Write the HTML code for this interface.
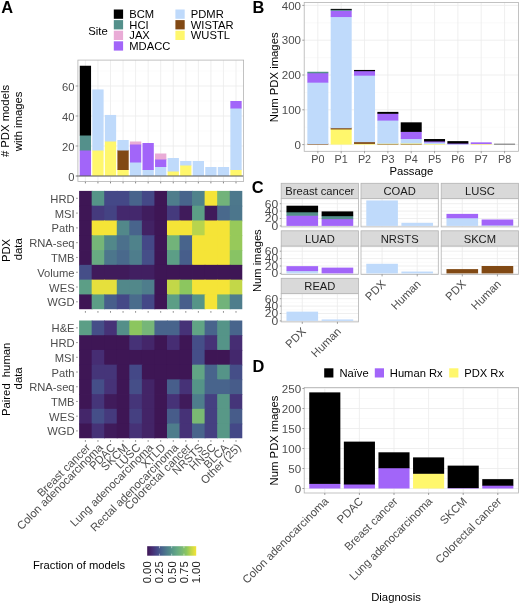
<!DOCTYPE html>
<html><head><meta charset="utf-8"><title>Figure</title>
<style>
html,body{margin:0;padding:0;background:#fff;}
body{width:520px;height:605px;overflow:hidden;}
svg{display:block;font-family:"Liberation Sans",sans-serif;}
svg{will-change:transform;}
</style></head>
<body>
<svg width="520" height="605" viewBox="0 0 520 605">
<rect width="520" height="605" fill="#fff"/>
<text x="1.2" y="12.8" font-size="16.4" fill="#000" text-anchor="start" font-weight="bold">A</text>
<text x="252.6" y="12.8" font-size="16.4" fill="#000" text-anchor="start" font-weight="bold">B</text>
<text x="251.8" y="193" font-size="16.4" fill="#000" text-anchor="start" font-weight="bold">C</text>
<text x="252.4" y="372.4" font-size="16.4" fill="#000" text-anchor="start" font-weight="bold">D</text>
<text x="88.3" y="34.5" font-size="11.3" fill="#000" text-anchor="start">Site</text>
<rect x="113.8" y="9.5" width="9.3" height="9.3" fill="#000000"/>
<text x="129.3" y="17.9" font-size="11.2" fill="#000" text-anchor="start">BCM</text>
<rect x="113.8" y="20.1" width="9.3" height="9.3" fill="#54908b"/>
<text x="129.3" y="28.5" font-size="11.2" fill="#000" text-anchor="start">HCI</text>
<rect x="113.8" y="30.7" width="9.3" height="9.3" fill="#e9abd6"/>
<text x="129.3" y="39.1" font-size="11.2" fill="#000" text-anchor="start">JAX</text>
<rect x="113.8" y="41.3" width="9.3" height="9.3" fill="#a265f9"/>
<text x="129.3" y="49.7" font-size="11.2" fill="#000" text-anchor="start">MDACC</text>
<rect x="175.4" y="9.5" width="9.3" height="9.3" fill="#bfdafb"/>
<text x="190.8" y="17.9" font-size="11.2" fill="#000" text-anchor="start">PDMR</text>
<rect x="175.4" y="20.1" width="9.3" height="9.3" fill="#814914"/>
<text x="190.8" y="28.5" font-size="11.2" fill="#000" text-anchor="start">WISTAR</text>
<rect x="175.4" y="30.7" width="9.3" height="9.3" fill="#fff76c"/>
<text x="190.8" y="39.1" font-size="11.2" fill="#000" text-anchor="start">WUSTL</text>
<rect x="77.9" y="60.1" width="165.7" height="121.4" fill="#ffffff"/>
<line x1="77.9" y1="161" x2="243.6" y2="161" stroke="#f4f4f4" stroke-width="0.5"/>
<line x1="77.9" y1="131" x2="243.6" y2="131" stroke="#f4f4f4" stroke-width="0.5"/>
<line x1="77.9" y1="101" x2="243.6" y2="101" stroke="#f4f4f4" stroke-width="0.5"/>
<line x1="77.9" y1="71" x2="243.6" y2="71" stroke="#f4f4f4" stroke-width="0.5"/>
<line x1="77.9" y1="176" x2="243.6" y2="176" stroke="#ebebeb" stroke-width="0.8"/>
<line x1="77.9" y1="146" x2="243.6" y2="146" stroke="#ebebeb" stroke-width="0.8"/>
<line x1="77.9" y1="116" x2="243.6" y2="116" stroke="#ebebeb" stroke-width="0.8"/>
<line x1="77.9" y1="86" x2="243.6" y2="86" stroke="#ebebeb" stroke-width="0.8"/>
<line x1="85.4" y1="60.1" x2="85.4" y2="181.5" stroke="#ebebeb" stroke-width="0.8"/>
<line x1="97.95" y1="60.1" x2="97.95" y2="181.5" stroke="#ebebeb" stroke-width="0.8"/>
<line x1="110.5" y1="60.1" x2="110.5" y2="181.5" stroke="#ebebeb" stroke-width="0.8"/>
<line x1="123.05" y1="60.1" x2="123.05" y2="181.5" stroke="#ebebeb" stroke-width="0.8"/>
<line x1="135.6" y1="60.1" x2="135.6" y2="181.5" stroke="#ebebeb" stroke-width="0.8"/>
<line x1="148.15" y1="60.1" x2="148.15" y2="181.5" stroke="#ebebeb" stroke-width="0.8"/>
<line x1="160.7" y1="60.1" x2="160.7" y2="181.5" stroke="#ebebeb" stroke-width="0.8"/>
<line x1="173.25" y1="60.1" x2="173.25" y2="181.5" stroke="#ebebeb" stroke-width="0.8"/>
<line x1="185.8" y1="60.1" x2="185.8" y2="181.5" stroke="#ebebeb" stroke-width="0.8"/>
<line x1="198.35" y1="60.1" x2="198.35" y2="181.5" stroke="#ebebeb" stroke-width="0.8"/>
<line x1="210.9" y1="60.1" x2="210.9" y2="181.5" stroke="#ebebeb" stroke-width="0.8"/>
<line x1="223.45" y1="60.1" x2="223.45" y2="181.5" stroke="#ebebeb" stroke-width="0.8"/>
<line x1="236" y1="60.1" x2="236" y2="181.5" stroke="#ebebeb" stroke-width="0.8"/>
<rect x="79.75" y="149.9" width="11.3" height="26.1" fill="#a265f9"/>
<rect x="79.75" y="134.9" width="11.3" height="15.6" fill="#54908b"/>
<rect x="79.75" y="65.75" width="11.3" height="69.75" fill="#000000"/>
<rect x="92.3" y="149.9" width="11.3" height="26.1" fill="#fff76c"/>
<rect x="92.3" y="89.45" width="11.3" height="61.05" fill="#bfdafb"/>
<rect x="104.85" y="140.9" width="11.3" height="35.1" fill="#fff76c"/>
<rect x="104.85" y="114.95" width="11.3" height="26.55" fill="#bfdafb"/>
<rect x="117.4" y="169.4" width="11.3" height="6.6" fill="#fff76c"/>
<rect x="117.4" y="149.9" width="11.3" height="20.1" fill="#814914"/>
<rect x="117.4" y="140" width="11.3" height="10.5" fill="#bfdafb"/>
<rect x="129.95" y="161.9" width="11.3" height="14.1" fill="#bfdafb"/>
<rect x="129.95" y="143.9" width="11.3" height="18.6" fill="#a265f9"/>
<rect x="129.95" y="141.5" width="11.3" height="3" fill="#e9abd6"/>
<rect x="142.5" y="169.4" width="11.3" height="6.6" fill="#bfdafb"/>
<rect x="142.5" y="143" width="11.3" height="27" fill="#a265f9"/>
<rect x="155.05" y="166.4" width="11.3" height="9.6" fill="#bfdafb"/>
<rect x="155.05" y="158.9" width="11.3" height="8.1" fill="#a265f9"/>
<rect x="155.05" y="153.5" width="11.3" height="6" fill="#e9abd6"/>
<rect x="167.6" y="170.9" width="11.3" height="5.1" fill="#fff76c"/>
<rect x="167.6" y="158" width="11.3" height="13.5" fill="#bfdafb"/>
<rect x="180.15" y="164.9" width="11.3" height="11.1" fill="#fff76c"/>
<rect x="180.15" y="161" width="11.3" height="4.5" fill="#bfdafb"/>
<rect x="192.7" y="161" width="11.3" height="15" fill="#bfdafb"/>
<rect x="205.25" y="167" width="11.3" height="9" fill="#bfdafb"/>
<rect x="217.8" y="167" width="11.3" height="9" fill="#bfdafb"/>
<rect x="230.35" y="169.4" width="11.3" height="6.6" fill="#fff76c"/>
<rect x="230.35" y="107.9" width="11.3" height="62.1" fill="#bfdafb"/>
<rect x="230.35" y="101" width="11.3" height="7.5" fill="#a265f9"/>
<line x1="76.6" y1="176" x2="243.6" y2="176" stroke="#5a5a5a" stroke-width="1"/>
<rect x="77.9" y="60.1" width="165.7" height="121.4" fill="none" stroke="#b3b3b3" stroke-width="0.8"/>
<line x1="75.6" y1="176" x2="77.9" y2="176" stroke="#777" stroke-width="0.7"/>
<text x="74.4" y="180.6" font-size="11.2" fill="#4d4d4d" text-anchor="end">0</text>
<line x1="75.6" y1="146" x2="77.9" y2="146" stroke="#777" stroke-width="0.7"/>
<text x="74.4" y="150.6" font-size="11.2" fill="#4d4d4d" text-anchor="end">20</text>
<line x1="75.6" y1="116" x2="77.9" y2="116" stroke="#777" stroke-width="0.7"/>
<text x="74.4" y="120.6" font-size="11.2" fill="#4d4d4d" text-anchor="end">40</text>
<line x1="75.6" y1="86" x2="77.9" y2="86" stroke="#777" stroke-width="0.7"/>
<text x="74.4" y="90.6" font-size="11.2" fill="#4d4d4d" text-anchor="end">60</text>
<line x1="85.4" y1="181.8" x2="85.4" y2="183.4" stroke="#555" stroke-width="0.7"/>
<line x1="97.95" y1="181.8" x2="97.95" y2="183.4" stroke="#555" stroke-width="0.7"/>
<line x1="110.5" y1="181.8" x2="110.5" y2="183.4" stroke="#555" stroke-width="0.7"/>
<line x1="123.05" y1="181.8" x2="123.05" y2="183.4" stroke="#555" stroke-width="0.7"/>
<line x1="135.6" y1="181.8" x2="135.6" y2="183.4" stroke="#555" stroke-width="0.7"/>
<line x1="148.15" y1="181.8" x2="148.15" y2="183.4" stroke="#555" stroke-width="0.7"/>
<line x1="160.7" y1="181.8" x2="160.7" y2="183.4" stroke="#555" stroke-width="0.7"/>
<line x1="173.25" y1="181.8" x2="173.25" y2="183.4" stroke="#555" stroke-width="0.7"/>
<line x1="185.8" y1="181.8" x2="185.8" y2="183.4" stroke="#555" stroke-width="0.7"/>
<line x1="198.35" y1="181.8" x2="198.35" y2="183.4" stroke="#555" stroke-width="0.7"/>
<line x1="210.9" y1="181.8" x2="210.9" y2="183.4" stroke="#555" stroke-width="0.7"/>
<line x1="223.45" y1="181.8" x2="223.45" y2="183.4" stroke="#555" stroke-width="0.7"/>
<line x1="236" y1="181.8" x2="236" y2="183.4" stroke="#555" stroke-width="0.7"/>
<text transform="translate(9.2 121) rotate(-90)" font-size="11.3" fill="#000" text-anchor="middle">#  PDX models</text>
<text transform="translate(21.6 121.3) rotate(-90)" font-size="11.3" fill="#000" text-anchor="middle">with images</text>
<rect x="79.12" y="190.9" width="13.35" height="15.59" fill="#3e1655"/>
<rect x="91.67" y="190.9" width="13.35" height="15.59" fill="#559488"/>
<rect x="104.22" y="190.9" width="13.35" height="15.59" fill="#444887"/>
<rect x="116.78" y="190.9" width="13.35" height="15.59" fill="#444887"/>
<rect x="129.32" y="190.9" width="13.35" height="15.59" fill="#48648c"/>
<rect x="141.88" y="190.9" width="13.35" height="15.59" fill="#444887"/>
<rect x="154.43" y="190.9" width="13.35" height="15.59" fill="#3e1655"/>
<rect x="166.98" y="190.9" width="13.35" height="15.59" fill="#4e7d8c"/>
<rect x="179.53" y="190.9" width="13.35" height="15.59" fill="#48648c"/>
<rect x="192.07" y="190.9" width="13.35" height="15.59" fill="#4f828b"/>
<rect x="204.62" y="190.9" width="13.35" height="15.59" fill="#f5e437"/>
<rect x="217.18" y="190.9" width="13.35" height="15.59" fill="#72b37a"/>
<rect x="229.73" y="190.9" width="12.55" height="15.59" fill="#4d788c"/>
<line x1="76" y1="198.3" x2="77.9" y2="198.3" stroke="#777" stroke-width="0.7"/>
<text x="74.6" y="202.8" font-size="11.2" fill="#4d4d4d" text-anchor="end">HRD</text>
<rect x="79.12" y="205.69" width="13.35" height="15.59" fill="#3e1655"/>
<rect x="91.67" y="205.69" width="13.35" height="15.59" fill="#453a7d"/>
<rect x="104.22" y="205.69" width="13.35" height="15.59" fill="#444383"/>
<rect x="116.78" y="205.69" width="13.35" height="15.59" fill="#44286d"/>
<rect x="129.32" y="205.69" width="13.35" height="15.59" fill="#44286d"/>
<rect x="141.88" y="205.69" width="13.35" height="15.59" fill="#401d5e"/>
<rect x="154.43" y="205.69" width="13.35" height="15.59" fill="#3e1655"/>
<rect x="166.98" y="205.69" width="13.35" height="15.59" fill="#453a7d"/>
<rect x="179.53" y="205.69" width="13.35" height="15.59" fill="#401b5b"/>
<rect x="192.07" y="205.69" width="13.35" height="15.59" fill="#5c9e86"/>
<rect x="204.62" y="205.69" width="13.35" height="15.59" fill="#401b5b"/>
<rect x="217.18" y="205.69" width="13.35" height="15.59" fill="#49698c"/>
<rect x="229.73" y="205.69" width="12.55" height="15.59" fill="#4c768c"/>
<line x1="76" y1="213.09" x2="77.9" y2="213.09" stroke="#777" stroke-width="0.7"/>
<text x="74.6" y="217.59" font-size="11.2" fill="#4d4d4d" text-anchor="end">MSI</text>
<rect x="79.12" y="220.48" width="13.35" height="15.59" fill="#3e1655"/>
<rect x="91.67" y="220.48" width="13.35" height="15.59" fill="#f5e437"/>
<rect x="104.22" y="220.48" width="13.35" height="15.59" fill="#f5e437"/>
<rect x="116.78" y="220.48" width="13.35" height="15.59" fill="#52888a"/>
<rect x="129.32" y="220.48" width="13.35" height="15.59" fill="#48648c"/>
<rect x="141.88" y="220.48" width="13.35" height="15.59" fill="#422264"/>
<rect x="154.43" y="220.48" width="13.35" height="15.59" fill="#3e1655"/>
<rect x="166.98" y="220.48" width="13.35" height="15.59" fill="#f5e437"/>
<rect x="179.53" y="220.48" width="13.35" height="15.59" fill="#f5e437"/>
<rect x="192.07" y="220.48" width="13.35" height="15.59" fill="#b8d44d"/>
<rect x="204.62" y="220.48" width="13.35" height="15.59" fill="#f5e437"/>
<rect x="217.18" y="220.48" width="13.35" height="15.59" fill="#f5e437"/>
<rect x="229.73" y="220.48" width="12.55" height="15.59" fill="#97c95a"/>
<line x1="76" y1="227.88" x2="77.9" y2="227.88" stroke="#777" stroke-width="0.7"/>
<text x="74.6" y="232.38" font-size="11.2" fill="#4d4d4d" text-anchor="end">Path</text>
<rect x="79.12" y="235.27" width="13.35" height="15.59" fill="#3e1655"/>
<rect x="91.67" y="235.27" width="13.35" height="15.59" fill="#76b678"/>
<rect x="104.22" y="235.27" width="13.35" height="15.59" fill="#52888a"/>
<rect x="116.78" y="235.27" width="13.35" height="15.59" fill="#4b708c"/>
<rect x="129.32" y="235.27" width="13.35" height="15.59" fill="#4f828b"/>
<rect x="141.88" y="235.27" width="13.35" height="15.59" fill="#444887"/>
<rect x="154.43" y="235.27" width="13.35" height="15.59" fill="#3e1655"/>
<rect x="166.98" y="235.27" width="13.35" height="15.59" fill="#72b37a"/>
<rect x="179.53" y="235.27" width="13.35" height="15.59" fill="#48648c"/>
<rect x="192.07" y="235.27" width="13.35" height="15.59" fill="#f5e437"/>
<rect x="204.62" y="235.27" width="13.35" height="15.59" fill="#f5e437"/>
<rect x="217.18" y="235.27" width="13.35" height="15.59" fill="#f5e437"/>
<rect x="229.73" y="235.27" width="12.55" height="15.59" fill="#97c95a"/>
<line x1="76" y1="242.67" x2="77.9" y2="242.67" stroke="#777" stroke-width="0.7"/>
<text x="74.6" y="247.17" font-size="11.2" fill="#4d4d4d" text-anchor="end">RNA-seq</text>
<rect x="79.12" y="250.06" width="13.35" height="15.59" fill="#3e1655"/>
<rect x="91.67" y="250.06" width="13.35" height="15.59" fill="#68ab82"/>
<rect x="104.22" y="250.06" width="13.35" height="15.59" fill="#4c768c"/>
<rect x="116.78" y="250.06" width="13.35" height="15.59" fill="#49698c"/>
<rect x="129.32" y="250.06" width="13.35" height="15.59" fill="#4e7d8c"/>
<rect x="141.88" y="250.06" width="13.35" height="15.59" fill="#454e88"/>
<rect x="154.43" y="250.06" width="13.35" height="15.59" fill="#3e1655"/>
<rect x="166.98" y="250.06" width="13.35" height="15.59" fill="#5c9e86"/>
<rect x="179.53" y="250.06" width="13.35" height="15.59" fill="#475e8b"/>
<rect x="192.07" y="250.06" width="13.35" height="15.59" fill="#f5e437"/>
<rect x="204.62" y="250.06" width="13.35" height="15.59" fill="#f5e437"/>
<rect x="217.18" y="250.06" width="13.35" height="15.59" fill="#f5e437"/>
<rect x="229.73" y="250.06" width="12.55" height="15.59" fill="#88c364"/>
<line x1="76" y1="257.45" x2="77.9" y2="257.45" stroke="#777" stroke-width="0.7"/>
<text x="74.6" y="261.95" font-size="11.2" fill="#4d4d4d" text-anchor="end">TMB</text>
<rect x="79.12" y="264.85" width="13.35" height="15.59" fill="#454e88"/>
<rect x="91.67" y="264.85" width="13.35" height="15.59" fill="#401b5b"/>
<rect x="104.22" y="264.85" width="13.35" height="15.59" fill="#401b5b"/>
<rect x="116.78" y="264.85" width="13.35" height="15.59" fill="#401b5b"/>
<rect x="129.32" y="264.85" width="13.35" height="15.59" fill="#411f61"/>
<rect x="141.88" y="264.85" width="13.35" height="15.59" fill="#411f61"/>
<rect x="154.43" y="264.85" width="13.35" height="15.59" fill="#3e1655"/>
<rect x="166.98" y="264.85" width="13.35" height="15.59" fill="#3e1655"/>
<rect x="179.53" y="264.85" width="13.35" height="15.59" fill="#3e1655"/>
<rect x="192.07" y="264.85" width="13.35" height="15.59" fill="#3e1655"/>
<rect x="204.62" y="264.85" width="13.35" height="15.59" fill="#3e1655"/>
<rect x="217.18" y="264.85" width="13.35" height="15.59" fill="#3e1655"/>
<rect x="229.73" y="264.85" width="12.55" height="15.59" fill="#3e1655"/>
<line x1="76" y1="272.25" x2="77.9" y2="272.25" stroke="#777" stroke-width="0.7"/>
<text x="74.6" y="276.75" font-size="11.2" fill="#4d4d4d" text-anchor="end">Volume</text>
<rect x="79.12" y="279.64" width="13.35" height="15.59" fill="#5c9e86"/>
<rect x="91.67" y="279.64" width="13.35" height="15.59" fill="#e6e03c"/>
<rect x="104.22" y="279.64" width="13.35" height="15.59" fill="#e6e03c"/>
<rect x="116.78" y="279.64" width="13.35" height="15.59" fill="#52888a"/>
<rect x="129.32" y="279.64" width="13.35" height="15.59" fill="#52888a"/>
<rect x="141.88" y="279.64" width="13.35" height="15.59" fill="#4e7d8c"/>
<rect x="154.43" y="279.64" width="13.35" height="15.59" fill="#3e1655"/>
<rect x="166.98" y="279.64" width="13.35" height="15.59" fill="#c3d748"/>
<rect x="179.53" y="279.64" width="13.35" height="15.59" fill="#8cc65f"/>
<rect x="192.07" y="279.64" width="13.35" height="15.59" fill="#f5e437"/>
<rect x="204.62" y="279.64" width="13.35" height="15.59" fill="#f5e437"/>
<rect x="217.18" y="279.64" width="13.35" height="15.59" fill="#f5e437"/>
<rect x="229.73" y="279.64" width="12.55" height="15.59" fill="#c3d748"/>
<line x1="76" y1="287.03" x2="77.9" y2="287.03" stroke="#777" stroke-width="0.7"/>
<text x="74.6" y="291.53" font-size="11.2" fill="#4d4d4d" text-anchor="end">WES</text>
<rect x="79.12" y="294.43" width="13.35" height="14.79" fill="#3e1655"/>
<rect x="91.67" y="294.43" width="13.35" height="14.79" fill="#5c9e86"/>
<rect x="104.22" y="294.43" width="13.35" height="14.79" fill="#475e8b"/>
<rect x="116.78" y="294.43" width="13.35" height="14.79" fill="#444887"/>
<rect x="129.32" y="294.43" width="13.35" height="14.79" fill="#4a6c8c"/>
<rect x="141.88" y="294.43" width="13.35" height="14.79" fill="#444887"/>
<rect x="154.43" y="294.43" width="13.35" height="14.79" fill="#3e1655"/>
<rect x="166.98" y="294.43" width="13.35" height="14.79" fill="#5c9e86"/>
<rect x="179.53" y="294.43" width="13.35" height="14.79" fill="#475e8b"/>
<rect x="192.07" y="294.43" width="13.35" height="14.79" fill="#559488"/>
<rect x="204.62" y="294.43" width="13.35" height="14.79" fill="#f5e437"/>
<rect x="217.18" y="294.43" width="13.35" height="14.79" fill="#72b37a"/>
<rect x="229.73" y="294.43" width="12.55" height="14.79" fill="#4e7d8c"/>
<line x1="76" y1="301.82" x2="77.9" y2="301.82" stroke="#777" stroke-width="0.7"/>
<text x="74.6" y="306.32" font-size="11.2" fill="#4d4d4d" text-anchor="end">WGD</text>
<line x1="85.4" y1="311.22" x2="85.4" y2="312.62" stroke="#666" stroke-width="0.9"/>
<line x1="97.95" y1="311.22" x2="97.95" y2="312.62" stroke="#666" stroke-width="0.9"/>
<line x1="110.5" y1="311.22" x2="110.5" y2="312.62" stroke="#666" stroke-width="0.9"/>
<line x1="123.05" y1="311.22" x2="123.05" y2="312.62" stroke="#666" stroke-width="0.9"/>
<line x1="135.6" y1="311.22" x2="135.6" y2="312.62" stroke="#666" stroke-width="0.9"/>
<line x1="148.15" y1="311.22" x2="148.15" y2="312.62" stroke="#666" stroke-width="0.9"/>
<line x1="160.7" y1="311.22" x2="160.7" y2="312.62" stroke="#666" stroke-width="0.9"/>
<line x1="173.25" y1="311.22" x2="173.25" y2="312.62" stroke="#666" stroke-width="0.9"/>
<line x1="185.8" y1="311.22" x2="185.8" y2="312.62" stroke="#666" stroke-width="0.9"/>
<line x1="198.35" y1="311.22" x2="198.35" y2="312.62" stroke="#666" stroke-width="0.9"/>
<line x1="210.9" y1="311.22" x2="210.9" y2="312.62" stroke="#666" stroke-width="0.9"/>
<line x1="223.45" y1="311.22" x2="223.45" y2="312.62" stroke="#666" stroke-width="0.9"/>
<line x1="236" y1="311.22" x2="236" y2="312.62" stroke="#666" stroke-width="0.9"/>
<rect x="79.12" y="320.5" width="13.35" height="15.52" fill="#5c9e86"/>
<rect x="91.67" y="320.5" width="13.35" height="15.52" fill="#454e88"/>
<rect x="104.22" y="320.5" width="13.35" height="15.52" fill="#463277"/>
<rect x="116.78" y="320.5" width="13.35" height="15.52" fill="#548f89"/>
<rect x="129.32" y="320.5" width="13.35" height="15.52" fill="#8cc65f"/>
<rect x="141.88" y="320.5" width="13.35" height="15.52" fill="#76b678"/>
<rect x="154.43" y="320.5" width="13.35" height="15.52" fill="#48648c"/>
<rect x="166.98" y="320.5" width="13.35" height="15.52" fill="#48648c"/>
<rect x="179.53" y="320.5" width="13.35" height="15.52" fill="#463277"/>
<rect x="192.07" y="320.5" width="13.35" height="15.52" fill="#61a485"/>
<rect x="204.62" y="320.5" width="13.35" height="15.52" fill="#48648c"/>
<rect x="217.18" y="320.5" width="13.35" height="15.52" fill="#559488"/>
<rect x="229.73" y="320.5" width="12.55" height="15.52" fill="#48648c"/>
<line x1="76" y1="327.86" x2="77.9" y2="327.86" stroke="#777" stroke-width="0.7"/>
<text x="74.6" y="332.36" font-size="11.2" fill="#4d4d4d" text-anchor="end">H&amp;E</text>
<rect x="79.12" y="335.22" width="13.35" height="15.52" fill="#3e1655"/>
<rect x="91.67" y="335.22" width="13.35" height="15.52" fill="#3e1655"/>
<rect x="104.22" y="335.22" width="13.35" height="15.52" fill="#3e1655"/>
<rect x="116.78" y="335.22" width="13.35" height="15.52" fill="#3e1655"/>
<rect x="129.32" y="335.22" width="13.35" height="15.52" fill="#463277"/>
<rect x="141.88" y="335.22" width="13.35" height="15.52" fill="#44266a"/>
<rect x="154.43" y="335.22" width="13.35" height="15.52" fill="#3e1655"/>
<rect x="166.98" y="335.22" width="13.35" height="15.52" fill="#462d73"/>
<rect x="179.53" y="335.22" width="13.35" height="15.52" fill="#3e1655"/>
<rect x="192.07" y="335.22" width="13.35" height="15.52" fill="#454e88"/>
<rect x="204.62" y="335.22" width="13.35" height="15.52" fill="#463277"/>
<rect x="217.18" y="335.22" width="13.35" height="15.52" fill="#559488"/>
<rect x="229.73" y="335.22" width="12.55" height="15.52" fill="#462d73"/>
<line x1="76" y1="342.58" x2="77.9" y2="342.58" stroke="#777" stroke-width="0.7"/>
<text x="74.6" y="347.08" font-size="11.2" fill="#4d4d4d" text-anchor="end">HRD</text>
<rect x="79.12" y="349.94" width="13.35" height="15.52" fill="#3e1655"/>
<rect x="91.67" y="349.94" width="13.35" height="15.52" fill="#462d73"/>
<rect x="104.22" y="349.94" width="13.35" height="15.52" fill="#3e1655"/>
<rect x="116.78" y="349.94" width="13.35" height="15.52" fill="#3e1655"/>
<rect x="129.32" y="349.94" width="13.35" height="15.52" fill="#3e1655"/>
<rect x="141.88" y="349.94" width="13.35" height="15.52" fill="#3e1655"/>
<rect x="154.43" y="349.94" width="13.35" height="15.52" fill="#3e1655"/>
<rect x="166.98" y="349.94" width="13.35" height="15.52" fill="#3e1655"/>
<rect x="179.53" y="349.94" width="13.35" height="15.52" fill="#3e1655"/>
<rect x="192.07" y="349.94" width="13.35" height="15.52" fill="#454e88"/>
<rect x="204.62" y="349.94" width="13.35" height="15.52" fill="#3e1655"/>
<rect x="217.18" y="349.94" width="13.35" height="15.52" fill="#3e1655"/>
<rect x="229.73" y="349.94" width="12.55" height="15.52" fill="#44286d"/>
<line x1="76" y1="357.3" x2="77.9" y2="357.3" stroke="#777" stroke-width="0.7"/>
<text x="74.6" y="361.8" font-size="11.2" fill="#4d4d4d" text-anchor="end">MSI</text>
<rect x="79.12" y="364.66" width="13.35" height="15.52" fill="#3e1655"/>
<rect x="91.67" y="364.66" width="13.35" height="15.52" fill="#453579"/>
<rect x="104.22" y="364.66" width="13.35" height="15.52" fill="#453579"/>
<rect x="116.78" y="364.66" width="13.35" height="15.52" fill="#3e1655"/>
<rect x="129.32" y="364.66" width="13.35" height="15.52" fill="#444887"/>
<rect x="141.88" y="364.66" width="13.35" height="15.52" fill="#3e1655"/>
<rect x="154.43" y="364.66" width="13.35" height="15.52" fill="#3e1655"/>
<rect x="166.98" y="364.66" width="13.35" height="15.52" fill="#3e1655"/>
<rect x="179.53" y="364.66" width="13.35" height="15.52" fill="#3e1655"/>
<rect x="192.07" y="364.66" width="13.35" height="15.52" fill="#61a485"/>
<rect x="204.62" y="364.66" width="13.35" height="15.52" fill="#48648c"/>
<rect x="217.18" y="364.66" width="13.35" height="15.52" fill="#559488"/>
<rect x="229.73" y="364.66" width="12.55" height="15.52" fill="#454e88"/>
<line x1="76" y1="372.02" x2="77.9" y2="372.02" stroke="#777" stroke-width="0.7"/>
<text x="74.6" y="376.52" font-size="11.2" fill="#4d4d4d" text-anchor="end">Path</text>
<rect x="79.12" y="379.38" width="13.35" height="15.52" fill="#3e1655"/>
<rect x="91.67" y="379.38" width="13.35" height="15.52" fill="#454e88"/>
<rect x="104.22" y="379.38" width="13.35" height="15.52" fill="#463277"/>
<rect x="116.78" y="379.38" width="13.35" height="15.52" fill="#3e1655"/>
<rect x="129.32" y="379.38" width="13.35" height="15.52" fill="#454e88"/>
<rect x="141.88" y="379.38" width="13.35" height="15.52" fill="#432467"/>
<rect x="154.43" y="379.38" width="13.35" height="15.52" fill="#3e1655"/>
<rect x="166.98" y="379.38" width="13.35" height="15.52" fill="#475e8b"/>
<rect x="179.53" y="379.38" width="13.35" height="15.52" fill="#463277"/>
<rect x="192.07" y="379.38" width="13.35" height="15.52" fill="#559488"/>
<rect x="204.62" y="379.38" width="13.35" height="15.52" fill="#48648c"/>
<rect x="217.18" y="379.38" width="13.35" height="15.52" fill="#48648c"/>
<rect x="229.73" y="379.38" width="12.55" height="15.52" fill="#475c8a"/>
<line x1="76" y1="386.74" x2="77.9" y2="386.74" stroke="#777" stroke-width="0.7"/>
<text x="74.6" y="391.24" font-size="11.2" fill="#4d4d4d" text-anchor="end">RNA-seq</text>
<rect x="79.12" y="394.1" width="13.35" height="15.52" fill="#3e1655"/>
<rect x="91.67" y="394.1" width="13.35" height="15.52" fill="#453579"/>
<rect x="104.22" y="394.1" width="13.35" height="15.52" fill="#401b5b"/>
<rect x="116.78" y="394.1" width="13.35" height="15.52" fill="#3e1655"/>
<rect x="129.32" y="394.1" width="13.35" height="15.52" fill="#453579"/>
<rect x="141.88" y="394.1" width="13.35" height="15.52" fill="#432467"/>
<rect x="154.43" y="394.1" width="13.35" height="15.52" fill="#3e1655"/>
<rect x="166.98" y="394.1" width="13.35" height="15.52" fill="#463277"/>
<rect x="179.53" y="394.1" width="13.35" height="15.52" fill="#401b5b"/>
<rect x="192.07" y="394.1" width="13.35" height="15.52" fill="#4e7d8c"/>
<rect x="204.62" y="394.1" width="13.35" height="15.52" fill="#454081"/>
<rect x="217.18" y="394.1" width="13.35" height="15.52" fill="#589887"/>
<rect x="229.73" y="394.1" width="12.55" height="15.52" fill="#453579"/>
<line x1="76" y1="401.46" x2="77.9" y2="401.46" stroke="#777" stroke-width="0.7"/>
<text x="74.6" y="405.96" font-size="11.2" fill="#4d4d4d" text-anchor="end">TMB</text>
<rect x="79.12" y="408.82" width="13.35" height="15.52" fill="#44266a"/>
<rect x="91.67" y="408.82" width="13.35" height="15.52" fill="#454e88"/>
<rect x="104.22" y="408.82" width="13.35" height="15.52" fill="#453a7d"/>
<rect x="116.78" y="408.82" width="13.35" height="15.52" fill="#3e1655"/>
<rect x="129.32" y="408.82" width="13.35" height="15.52" fill="#454081"/>
<rect x="141.88" y="408.82" width="13.35" height="15.52" fill="#432467"/>
<rect x="154.43" y="408.82" width="13.35" height="15.52" fill="#3e1655"/>
<rect x="166.98" y="408.82" width="13.35" height="15.52" fill="#475c8a"/>
<rect x="179.53" y="408.82" width="13.35" height="15.52" fill="#463277"/>
<rect x="192.07" y="408.82" width="13.35" height="15.52" fill="#7ab973"/>
<rect x="204.62" y="408.82" width="13.35" height="15.52" fill="#454081"/>
<rect x="217.18" y="408.82" width="13.35" height="15.52" fill="#589887"/>
<rect x="229.73" y="408.82" width="12.55" height="15.52" fill="#475c8a"/>
<line x1="76" y1="416.18" x2="77.9" y2="416.18" stroke="#777" stroke-width="0.7"/>
<text x="74.6" y="420.68" font-size="11.2" fill="#4d4d4d" text-anchor="end">WES</text>
<rect x="79.12" y="423.54" width="13.35" height="14.72" fill="#3e1655"/>
<rect x="91.67" y="423.54" width="13.35" height="14.72" fill="#463277"/>
<rect x="104.22" y="423.54" width="13.35" height="14.72" fill="#401b5b"/>
<rect x="116.78" y="423.54" width="13.35" height="14.72" fill="#3e1655"/>
<rect x="129.32" y="423.54" width="13.35" height="14.72" fill="#463277"/>
<rect x="141.88" y="423.54" width="13.35" height="14.72" fill="#432467"/>
<rect x="154.43" y="423.54" width="13.35" height="14.72" fill="#3e1655"/>
<rect x="166.98" y="423.54" width="13.35" height="14.72" fill="#4e7d8c"/>
<rect x="179.53" y="423.54" width="13.35" height="14.72" fill="#463277"/>
<rect x="192.07" y="423.54" width="13.35" height="14.72" fill="#48648c"/>
<rect x="204.62" y="423.54" width="13.35" height="14.72" fill="#454081"/>
<rect x="217.18" y="423.54" width="13.35" height="14.72" fill="#589887"/>
<rect x="229.73" y="423.54" width="12.55" height="14.72" fill="#444887"/>
<line x1="76" y1="430.9" x2="77.9" y2="430.9" stroke="#777" stroke-width="0.7"/>
<text x="74.6" y="435.4" font-size="11.2" fill="#4d4d4d" text-anchor="end">WGD</text>
<line x1="85.4" y1="440.26" x2="85.4" y2="441.66" stroke="#666" stroke-width="0.9"/>
<line x1="97.95" y1="440.26" x2="97.95" y2="441.66" stroke="#666" stroke-width="0.9"/>
<line x1="110.5" y1="440.26" x2="110.5" y2="441.66" stroke="#666" stroke-width="0.9"/>
<line x1="123.05" y1="440.26" x2="123.05" y2="441.66" stroke="#666" stroke-width="0.9"/>
<line x1="135.6" y1="440.26" x2="135.6" y2="441.66" stroke="#666" stroke-width="0.9"/>
<line x1="148.15" y1="440.26" x2="148.15" y2="441.66" stroke="#666" stroke-width="0.9"/>
<line x1="160.7" y1="440.26" x2="160.7" y2="441.66" stroke="#666" stroke-width="0.9"/>
<line x1="173.25" y1="440.26" x2="173.25" y2="441.66" stroke="#666" stroke-width="0.9"/>
<line x1="185.8" y1="440.26" x2="185.8" y2="441.66" stroke="#666" stroke-width="0.9"/>
<line x1="198.35" y1="440.26" x2="198.35" y2="441.66" stroke="#666" stroke-width="0.9"/>
<line x1="210.9" y1="440.26" x2="210.9" y2="441.66" stroke="#666" stroke-width="0.9"/>
<line x1="223.45" y1="440.26" x2="223.45" y2="441.66" stroke="#666" stroke-width="0.9"/>
<line x1="236" y1="440.26" x2="236" y2="441.66" stroke="#666" stroke-width="0.9"/>
<text transform="translate(9.9 250.5) rotate(-90)" font-size="11.3" fill="#000" text-anchor="middle">PDX</text>
<text transform="translate(22.0 249.2) rotate(-90)" font-size="11.3" fill="#000" text-anchor="middle">data</text>
<text transform="translate(9.8 379.3) rotate(-90)" font-size="11.3" fill="#000" text-anchor="middle" word-spacing="3">Paired human</text>
<text transform="translate(22.0 378.4) rotate(-90)" font-size="11.3" fill="#000" text-anchor="middle">data</text>
<text transform="translate(91 448.3) rotate(-45)" font-size="11.3" fill="#4d4d4d" text-anchor="end">Breast cancer</text>
<text transform="translate(103.55 448.3) rotate(-45)" font-size="11.3" fill="#4d4d4d" text-anchor="end">Colon adenocarcinoma</text>
<text transform="translate(116.1 448.3) rotate(-45)" font-size="11.3" fill="#4d4d4d" text-anchor="end">PDAC</text>
<text transform="translate(128.65 448.3) rotate(-45)" font-size="11.3" fill="#4d4d4d" text-anchor="end">SKCM</text>
<text transform="translate(141.2 448.3) rotate(-45)" font-size="11.3" fill="#4d4d4d" text-anchor="end">LUSC</text>
<text transform="translate(153.75 448.3) rotate(-45)" font-size="11.3" fill="#4d4d4d" text-anchor="end">Lung adenocarcinoma</text>
<text transform="translate(166.3 448.3) rotate(-45)" font-size="11.3" fill="#4d4d4d" text-anchor="end">XTLD</text>
<text transform="translate(178.85 448.3) rotate(-45)" font-size="11.3" fill="#4d4d4d" text-anchor="end">Rectal adenocarcinoma</text>
<text transform="translate(191.4 448.3) rotate(-45)" font-size="11.3" fill="#4d4d4d" text-anchor="end">Colorectal cancer</text>
<text transform="translate(203.95 448.3) rotate(-45)" font-size="11.3" fill="#4d4d4d" text-anchor="end">NRSTS</text>
<text transform="translate(216.5 448.3) rotate(-45)" font-size="11.3" fill="#4d4d4d" text-anchor="end">HNSC</text>
<text transform="translate(229.05 448.3) rotate(-45)" font-size="11.3" fill="#4d4d4d" text-anchor="end">BLCA</text>
<text transform="translate(241.6 448.3) rotate(-45)" font-size="11.3" fill="#4d4d4d" text-anchor="end">Other (25)</text>
<text x="33" y="569.4" font-size="11.2" fill="#000" text-anchor="start">Fraction of models</text>
<defs><linearGradient id="vir" x1="0" x2="1" y1="0" y2="0"><stop offset="0" stop-color="#3e1655"/><stop offset="0.1" stop-color="#462d73"/><stop offset="0.2" stop-color="#444887"/><stop offset="0.3" stop-color="#48648c"/><stop offset="0.4" stop-color="#4e7d8c"/><stop offset="0.5" stop-color="#559488"/><stop offset="0.6" stop-color="#64a884"/><stop offset="0.7" stop-color="#76b678"/><stop offset="0.8" stop-color="#8cc65f"/><stop offset="0.9" stop-color="#c3d748"/><stop offset="1" stop-color="#f5e437"/></linearGradient></defs>
<rect x="147.2" y="546.2" width="49" height="9.5" fill="url(#vir)"/>
<text transform="translate(151.1 561.3) rotate(-90)" font-size="11.3" fill="#1a1a1a" text-anchor="end">0.00</text>
<line x1="159.45" y1="546.2" x2="159.45" y2="548.2" stroke="#ffffff" stroke-width="0.5"/>
<line x1="159.45" y1="553.7" x2="159.45" y2="555.7" stroke="#ffffff" stroke-width="0.5"/>
<text transform="translate(163.35 561.3) rotate(-90)" font-size="11.3" fill="#1a1a1a" text-anchor="end">0.25</text>
<line x1="171.7" y1="546.2" x2="171.7" y2="548.2" stroke="#ffffff" stroke-width="0.5"/>
<line x1="171.7" y1="553.7" x2="171.7" y2="555.7" stroke="#ffffff" stroke-width="0.5"/>
<text transform="translate(175.6 561.3) rotate(-90)" font-size="11.3" fill="#1a1a1a" text-anchor="end">0.50</text>
<line x1="183.95" y1="546.2" x2="183.95" y2="548.2" stroke="#ffffff" stroke-width="0.5"/>
<line x1="183.95" y1="553.7" x2="183.95" y2="555.7" stroke="#ffffff" stroke-width="0.5"/>
<text transform="translate(187.85 561.3) rotate(-90)" font-size="11.3" fill="#1a1a1a" text-anchor="end">0.75</text>
<text transform="translate(200.1 561.3) rotate(-90)" font-size="11.3" fill="#1a1a1a" text-anchor="end">1.00</text>
<rect x="304.2" y="2.4" width="214.4" height="148.9" fill="#ffffff"/>
<line x1="304.2" y1="127.2" x2="518.6" y2="127.2" stroke="#f4f4f4" stroke-width="0.5"/>
<line x1="304.2" y1="92.4" x2="518.6" y2="92.4" stroke="#f4f4f4" stroke-width="0.5"/>
<line x1="304.2" y1="57.6" x2="518.6" y2="57.6" stroke="#f4f4f4" stroke-width="0.5"/>
<line x1="304.2" y1="22.8" x2="518.6" y2="22.8" stroke="#f4f4f4" stroke-width="0.5"/>
<line x1="304.2" y1="144.6" x2="518.6" y2="144.6" stroke="#ebebeb" stroke-width="0.8"/>
<line x1="304.2" y1="109.8" x2="518.6" y2="109.8" stroke="#ebebeb" stroke-width="0.8"/>
<line x1="304.2" y1="75" x2="518.6" y2="75" stroke="#ebebeb" stroke-width="0.8"/>
<line x1="304.2" y1="40.2" x2="518.6" y2="40.2" stroke="#ebebeb" stroke-width="0.8"/>
<line x1="304.2" y1="5.4" x2="518.6" y2="5.4" stroke="#ebebeb" stroke-width="0.8"/>
<line x1="317.85" y1="2.4" x2="317.85" y2="151.3" stroke="#ebebeb" stroke-width="0.8"/>
<line x1="341.19" y1="2.4" x2="341.19" y2="151.3" stroke="#ebebeb" stroke-width="0.8"/>
<line x1="364.53" y1="2.4" x2="364.53" y2="151.3" stroke="#ebebeb" stroke-width="0.8"/>
<line x1="387.87" y1="2.4" x2="387.87" y2="151.3" stroke="#ebebeb" stroke-width="0.8"/>
<line x1="411.21" y1="2.4" x2="411.21" y2="151.3" stroke="#ebebeb" stroke-width="0.8"/>
<line x1="434.55" y1="2.4" x2="434.55" y2="151.3" stroke="#ebebeb" stroke-width="0.8"/>
<line x1="457.89" y1="2.4" x2="457.89" y2="151.3" stroke="#ebebeb" stroke-width="0.8"/>
<line x1="481.23" y1="2.4" x2="481.23" y2="151.3" stroke="#ebebeb" stroke-width="0.8"/>
<line x1="504.57" y1="2.4" x2="504.57" y2="151.3" stroke="#ebebeb" stroke-width="0.8"/>
<rect x="307.35" y="143.48" width="21" height="1.12" fill="#814914"/>
<rect x="307.35" y="82.06" width="21" height="62.02" fill="#bfdafb"/>
<rect x="307.35" y="72.66" width="21" height="10" fill="#a265f9"/>
<rect x="307.35" y="71.76" width="21" height="1.5" fill="#54908b"/>
<rect x="330.69" y="128.86" width="21" height="15.74" fill="#fff76c"/>
<rect x="330.69" y="127.64" width="21" height="1.82" fill="#814914"/>
<rect x="330.69" y="16.46" width="21" height="111.79" fill="#bfdafb"/>
<rect x="330.69" y="10.26" width="21" height="6.79" fill="#a265f9"/>
<rect x="330.69" y="9.25" width="21" height="1.61" fill="#54908b"/>
<rect x="330.69" y="8.88" width="21" height="0.97" fill="#000000"/>
<rect x="354.03" y="143.3" width="21" height="1.3" fill="#fff76c"/>
<rect x="354.03" y="141.56" width="21" height="2.34" fill="#814914"/>
<rect x="354.03" y="75.1" width="21" height="67.07" fill="#bfdafb"/>
<rect x="354.03" y="70.57" width="21" height="5.12" fill="#a265f9"/>
<rect x="354.03" y="69.95" width="21" height="1.22" fill="#000000"/>
<rect x="377.37" y="143.65" width="21" height="0.95" fill="#814914"/>
<rect x="377.37" y="143.13" width="21" height="1.12" fill="#fff76c"/>
<rect x="377.37" y="119.99" width="21" height="23.74" fill="#bfdafb"/>
<rect x="377.37" y="113.2" width="21" height="7.39" fill="#a265f9"/>
<rect x="377.37" y="111.89" width="21" height="1.91" fill="#000000"/>
<rect x="400.71" y="143.65" width="21" height="0.95" fill="#814914"/>
<rect x="400.71" y="142.96" width="21" height="1.3" fill="#fff76c"/>
<rect x="400.71" y="138.43" width="21" height="5.12" fill="#bfdafb"/>
<rect x="400.71" y="131.3" width="21" height="7.73" fill="#a265f9"/>
<rect x="400.71" y="122.33" width="21" height="9.57" fill="#000000"/>
<rect x="424.05" y="143.48" width="21" height="1.12" fill="#fff76c"/>
<rect x="424.05" y="141.91" width="21" height="2.17" fill="#bfdafb"/>
<rect x="424.05" y="140.87" width="21" height="1.64" fill="#a265f9"/>
<rect x="424.05" y="139.03" width="21" height="2.44" fill="#000000"/>
<rect x="447.39" y="143.65" width="21" height="0.95" fill="#bfdafb"/>
<rect x="447.39" y="142.96" width="21" height="1.3" fill="#a265f9"/>
<rect x="447.39" y="141.12" width="21" height="2.44" fill="#000000"/>
<rect x="470.73" y="143.48" width="21" height="1.12" fill="#fff76c"/>
<rect x="470.73" y="142.34" width="21" height="1.74" fill="#a265f9"/>
<rect x="494.07" y="143.7" width="21" height="0.9" fill="#5e5e5e"/>
<rect x="304.2" y="2.4" width="214.4" height="148.9" fill="none" stroke="#b3b3b3" stroke-width="0.8"/>
<line x1="302.3" y1="144.6" x2="304.2" y2="144.6" stroke="#777" stroke-width="0.7"/>
<text x="301" y="148.8" font-size="11" fill="#4d4d4d" text-anchor="end" transform="translate(301 0) scale(1.05 1) translate(-301 0)">0</text>
<line x1="302.3" y1="109.8" x2="304.2" y2="109.8" stroke="#777" stroke-width="0.7"/>
<text x="301" y="114" font-size="11" fill="#4d4d4d" text-anchor="end" transform="translate(301 0) scale(1.05 1) translate(-301 0)">100</text>
<line x1="302.3" y1="75" x2="304.2" y2="75" stroke="#777" stroke-width="0.7"/>
<text x="301" y="79.2" font-size="11" fill="#4d4d4d" text-anchor="end" transform="translate(301 0) scale(1.05 1) translate(-301 0)">200</text>
<line x1="302.3" y1="40.2" x2="304.2" y2="40.2" stroke="#777" stroke-width="0.7"/>
<text x="301" y="44.4" font-size="11" fill="#4d4d4d" text-anchor="end" transform="translate(301 0) scale(1.05 1) translate(-301 0)">300</text>
<line x1="302.3" y1="5.4" x2="304.2" y2="5.4" stroke="#777" stroke-width="0.7"/>
<text x="301" y="9.6" font-size="11" fill="#4d4d4d" text-anchor="end" transform="translate(301 0) scale(1.05 1) translate(-301 0)">400</text>
<line x1="317.85" y1="151.3" x2="317.85" y2="153.3" stroke="#666" stroke-width="0.6"/>
<text x="317.85" y="162.9" font-size="10.8" fill="#4d4d4d" text-anchor="middle">P0</text>
<line x1="341.19" y1="151.3" x2="341.19" y2="153.3" stroke="#666" stroke-width="0.6"/>
<text x="341.19" y="162.9" font-size="10.8" fill="#4d4d4d" text-anchor="middle">P1</text>
<line x1="364.53" y1="151.3" x2="364.53" y2="153.3" stroke="#666" stroke-width="0.6"/>
<text x="364.53" y="162.9" font-size="10.8" fill="#4d4d4d" text-anchor="middle">P2</text>
<line x1="387.87" y1="151.3" x2="387.87" y2="153.3" stroke="#666" stroke-width="0.6"/>
<text x="387.87" y="162.9" font-size="10.8" fill="#4d4d4d" text-anchor="middle">P3</text>
<line x1="411.21" y1="151.3" x2="411.21" y2="153.3" stroke="#666" stroke-width="0.6"/>
<text x="411.21" y="162.9" font-size="10.8" fill="#4d4d4d" text-anchor="middle">P4</text>
<line x1="434.55" y1="151.3" x2="434.55" y2="153.3" stroke="#666" stroke-width="0.6"/>
<text x="434.55" y="162.9" font-size="10.8" fill="#4d4d4d" text-anchor="middle">P5</text>
<line x1="457.89" y1="151.3" x2="457.89" y2="153.3" stroke="#666" stroke-width="0.6"/>
<text x="457.89" y="162.9" font-size="10.8" fill="#4d4d4d" text-anchor="middle">P6</text>
<line x1="481.23" y1="151.3" x2="481.23" y2="153.3" stroke="#666" stroke-width="0.6"/>
<text x="481.23" y="162.9" font-size="10.8" fill="#4d4d4d" text-anchor="middle">P7</text>
<line x1="504.57" y1="151.3" x2="504.57" y2="153.3" stroke="#666" stroke-width="0.6"/>
<text x="504.57" y="162.9" font-size="10.8" fill="#4d4d4d" text-anchor="middle">P8</text>
<text x="411.4" y="174.9" font-size="11.3" fill="#000" text-anchor="middle">Passage</text>
<text transform="translate(278.0 77.3) rotate(-90)" font-size="11.3" fill="#000" text-anchor="middle">Num PDX images</text>
<rect x="281.2" y="183.3" width="77.3" height="15.4" fill="#d9d9d9" stroke="#b3b3b3" stroke-width="0.8"/>
<text x="319.85" y="195.2" font-size="11.2" fill="#1a1a1a" text-anchor="middle">Breast cancer</text>
<rect x="281.2" y="198.7" width="77.3" height="28.2" fill="#ffffff"/>
<line x1="281.2" y1="222.2" x2="358.5" y2="222.2" stroke="#f4f4f4" stroke-width="0.5"/>
<line x1="281.2" y1="214.8" x2="358.5" y2="214.8" stroke="#f4f4f4" stroke-width="0.5"/>
<line x1="281.2" y1="207.4" x2="358.5" y2="207.4" stroke="#f4f4f4" stroke-width="0.5"/>
<line x1="281.2" y1="200" x2="358.5" y2="200" stroke="#f4f4f4" stroke-width="0.5"/>
<line x1="281.2" y1="225.9" x2="358.5" y2="225.9" stroke="#ebebeb" stroke-width="0.8"/>
<line x1="281.2" y1="218.5" x2="358.5" y2="218.5" stroke="#ebebeb" stroke-width="0.8"/>
<line x1="281.2" y1="211.1" x2="358.5" y2="211.1" stroke="#ebebeb" stroke-width="0.8"/>
<line x1="281.2" y1="203.7" x2="358.5" y2="203.7" stroke="#ebebeb" stroke-width="0.8"/>
<line x1="302.28" y1="198.7" x2="302.28" y2="226.9" stroke="#ebebeb" stroke-width="0.8"/>
<line x1="337.42" y1="198.7" x2="337.42" y2="226.9" stroke="#ebebeb" stroke-width="0.8"/>
<rect x="286.47" y="215.16" width="31.62" height="10.74" fill="#a265f9"/>
<rect x="286.47" y="211.68" width="31.62" height="4.08" fill="#54908b"/>
<rect x="286.47" y="205.7" width="31.62" height="6.59" fill="#000000"/>
<rect x="321.61" y="218.53" width="31.62" height="7.37" fill="#a265f9"/>
<rect x="321.61" y="215.57" width="31.62" height="3.56" fill="#54908b"/>
<rect x="321.61" y="211.4" width="31.62" height="4.77" fill="#000000"/>
<rect x="281.2" y="198.7" width="77.3" height="28.2" fill="none" stroke="#b3b3b3" stroke-width="0.8"/>
<line x1="279.8" y1="225.9" x2="281.2" y2="225.9" stroke="#777" stroke-width="0.7"/>
<text x="278.2" y="229.8" font-size="10.8" fill="#4d4d4d" text-anchor="end" transform="translate(278.2 0) scale(1.12 1) translate(-278.2 0)">0</text>
<line x1="279.8" y1="218.5" x2="281.2" y2="218.5" stroke="#777" stroke-width="0.7"/>
<text x="278.2" y="222.4" font-size="10.8" fill="#4d4d4d" text-anchor="end" transform="translate(278.2 0) scale(1.12 1) translate(-278.2 0)">20</text>
<line x1="279.8" y1="211.1" x2="281.2" y2="211.1" stroke="#777" stroke-width="0.7"/>
<text x="278.2" y="215" font-size="10.8" fill="#4d4d4d" text-anchor="end" transform="translate(278.2 0) scale(1.12 1) translate(-278.2 0)">40</text>
<line x1="279.8" y1="203.7" x2="281.2" y2="203.7" stroke="#777" stroke-width="0.7"/>
<text x="278.2" y="207.6" font-size="10.8" fill="#4d4d4d" text-anchor="end" transform="translate(278.2 0) scale(1.12 1) translate(-278.2 0)">60</text>
<rect x="361" y="183.3" width="77.3" height="15.4" fill="#d9d9d9" stroke="#b3b3b3" stroke-width="0.8"/>
<text x="399.65" y="195.2" font-size="11.2" fill="#1a1a1a" text-anchor="middle">COAD</text>
<rect x="361" y="198.7" width="77.3" height="28.2" fill="#ffffff"/>
<line x1="361" y1="222.2" x2="438.3" y2="222.2" stroke="#f4f4f4" stroke-width="0.5"/>
<line x1="361" y1="214.8" x2="438.3" y2="214.8" stroke="#f4f4f4" stroke-width="0.5"/>
<line x1="361" y1="207.4" x2="438.3" y2="207.4" stroke="#f4f4f4" stroke-width="0.5"/>
<line x1="361" y1="200" x2="438.3" y2="200" stroke="#f4f4f4" stroke-width="0.5"/>
<line x1="361" y1="225.9" x2="438.3" y2="225.9" stroke="#ebebeb" stroke-width="0.8"/>
<line x1="361" y1="218.5" x2="438.3" y2="218.5" stroke="#ebebeb" stroke-width="0.8"/>
<line x1="361" y1="211.1" x2="438.3" y2="211.1" stroke="#ebebeb" stroke-width="0.8"/>
<line x1="361" y1="203.7" x2="438.3" y2="203.7" stroke="#ebebeb" stroke-width="0.8"/>
<line x1="382.08" y1="198.7" x2="382.08" y2="226.9" stroke="#ebebeb" stroke-width="0.8"/>
<line x1="417.22" y1="198.7" x2="417.22" y2="226.9" stroke="#ebebeb" stroke-width="0.8"/>
<rect x="366.27" y="200.44" width="31.62" height="25.46" fill="#bfdafb"/>
<rect x="401.41" y="222.83" width="31.62" height="3.07" fill="#bfdafb"/>
<rect x="361" y="198.7" width="77.3" height="28.2" fill="none" stroke="#b3b3b3" stroke-width="0.8"/>
<rect x="441.2" y="183.3" width="77.3" height="15.4" fill="#d9d9d9" stroke="#b3b3b3" stroke-width="0.8"/>
<text x="479.85" y="195.2" font-size="11.2" fill="#1a1a1a" text-anchor="middle">LUSC</text>
<rect x="441.2" y="198.7" width="77.3" height="28.2" fill="#ffffff"/>
<line x1="441.2" y1="222.2" x2="518.5" y2="222.2" stroke="#f4f4f4" stroke-width="0.5"/>
<line x1="441.2" y1="214.8" x2="518.5" y2="214.8" stroke="#f4f4f4" stroke-width="0.5"/>
<line x1="441.2" y1="207.4" x2="518.5" y2="207.4" stroke="#f4f4f4" stroke-width="0.5"/>
<line x1="441.2" y1="200" x2="518.5" y2="200" stroke="#f4f4f4" stroke-width="0.5"/>
<line x1="441.2" y1="225.9" x2="518.5" y2="225.9" stroke="#ebebeb" stroke-width="0.8"/>
<line x1="441.2" y1="218.5" x2="518.5" y2="218.5" stroke="#ebebeb" stroke-width="0.8"/>
<line x1="441.2" y1="211.1" x2="518.5" y2="211.1" stroke="#ebebeb" stroke-width="0.8"/>
<line x1="441.2" y1="203.7" x2="518.5" y2="203.7" stroke="#ebebeb" stroke-width="0.8"/>
<line x1="462.28" y1="198.7" x2="462.28" y2="226.9" stroke="#ebebeb" stroke-width="0.8"/>
<line x1="497.42" y1="198.7" x2="497.42" y2="226.9" stroke="#ebebeb" stroke-width="0.8"/>
<rect x="446.47" y="217.64" width="31.62" height="8.26" fill="#bfdafb"/>
<rect x="446.47" y="213.88" width="31.62" height="4.37" fill="#a265f9"/>
<rect x="481.61" y="224.86" width="31.62" height="1.04" fill="#bfdafb"/>
<rect x="481.61" y="219.5" width="31.62" height="5.96" fill="#a265f9"/>
<rect x="441.2" y="198.7" width="77.3" height="28.2" fill="none" stroke="#b3b3b3" stroke-width="0.8"/>
<rect x="281.2" y="230.8" width="77.3" height="15.4" fill="#d9d9d9" stroke="#b3b3b3" stroke-width="0.8"/>
<text x="319.85" y="242.7" font-size="11.2" fill="#1a1a1a" text-anchor="middle">LUAD</text>
<rect x="281.2" y="246.2" width="77.3" height="28.2" fill="#ffffff"/>
<line x1="281.2" y1="269.7" x2="358.5" y2="269.7" stroke="#f4f4f4" stroke-width="0.5"/>
<line x1="281.2" y1="262.3" x2="358.5" y2="262.3" stroke="#f4f4f4" stroke-width="0.5"/>
<line x1="281.2" y1="254.9" x2="358.5" y2="254.9" stroke="#f4f4f4" stroke-width="0.5"/>
<line x1="281.2" y1="247.5" x2="358.5" y2="247.5" stroke="#f4f4f4" stroke-width="0.5"/>
<line x1="281.2" y1="273.4" x2="358.5" y2="273.4" stroke="#ebebeb" stroke-width="0.8"/>
<line x1="281.2" y1="266" x2="358.5" y2="266" stroke="#ebebeb" stroke-width="0.8"/>
<line x1="281.2" y1="258.6" x2="358.5" y2="258.6" stroke="#ebebeb" stroke-width="0.8"/>
<line x1="281.2" y1="251.2" x2="358.5" y2="251.2" stroke="#ebebeb" stroke-width="0.8"/>
<line x1="302.28" y1="246.2" x2="302.28" y2="274.4" stroke="#ebebeb" stroke-width="0.8"/>
<line x1="337.42" y1="246.2" x2="337.42" y2="274.4" stroke="#ebebeb" stroke-width="0.8"/>
<rect x="286.47" y="270.51" width="31.62" height="2.89" fill="#bfdafb"/>
<rect x="286.47" y="266.15" width="31.62" height="4.96" fill="#a265f9"/>
<rect x="321.61" y="267.63" width="31.62" height="5.77" fill="#a265f9"/>
<rect x="281.2" y="246.2" width="77.3" height="28.2" fill="none" stroke="#b3b3b3" stroke-width="0.8"/>
<line x1="279.8" y1="273.4" x2="281.2" y2="273.4" stroke="#777" stroke-width="0.7"/>
<text x="278.2" y="277.3" font-size="10.8" fill="#4d4d4d" text-anchor="end" transform="translate(278.2 0) scale(1.12 1) translate(-278.2 0)">0</text>
<line x1="279.8" y1="266" x2="281.2" y2="266" stroke="#777" stroke-width="0.7"/>
<text x="278.2" y="269.9" font-size="10.8" fill="#4d4d4d" text-anchor="end" transform="translate(278.2 0) scale(1.12 1) translate(-278.2 0)">20</text>
<line x1="279.8" y1="258.6" x2="281.2" y2="258.6" stroke="#777" stroke-width="0.7"/>
<text x="278.2" y="262.5" font-size="10.8" fill="#4d4d4d" text-anchor="end" transform="translate(278.2 0) scale(1.12 1) translate(-278.2 0)">40</text>
<line x1="279.8" y1="251.2" x2="281.2" y2="251.2" stroke="#777" stroke-width="0.7"/>
<text x="278.2" y="255.1" font-size="10.8" fill="#4d4d4d" text-anchor="end" transform="translate(278.2 0) scale(1.12 1) translate(-278.2 0)">60</text>
<rect x="361" y="230.8" width="77.3" height="15.4" fill="#d9d9d9" stroke="#b3b3b3" stroke-width="0.8"/>
<text x="399.65" y="242.7" font-size="11.2" fill="#1a1a1a" text-anchor="middle">NRSTS</text>
<rect x="361" y="246.2" width="77.3" height="28.2" fill="#ffffff"/>
<line x1="361" y1="269.7" x2="438.3" y2="269.7" stroke="#f4f4f4" stroke-width="0.5"/>
<line x1="361" y1="262.3" x2="438.3" y2="262.3" stroke="#f4f4f4" stroke-width="0.5"/>
<line x1="361" y1="254.9" x2="438.3" y2="254.9" stroke="#f4f4f4" stroke-width="0.5"/>
<line x1="361" y1="247.5" x2="438.3" y2="247.5" stroke="#f4f4f4" stroke-width="0.5"/>
<line x1="361" y1="273.4" x2="438.3" y2="273.4" stroke="#ebebeb" stroke-width="0.8"/>
<line x1="361" y1="266" x2="438.3" y2="266" stroke="#ebebeb" stroke-width="0.8"/>
<line x1="361" y1="258.6" x2="438.3" y2="258.6" stroke="#ebebeb" stroke-width="0.8"/>
<line x1="361" y1="251.2" x2="438.3" y2="251.2" stroke="#ebebeb" stroke-width="0.8"/>
<line x1="382.08" y1="246.2" x2="382.08" y2="274.4" stroke="#ebebeb" stroke-width="0.8"/>
<line x1="417.22" y1="246.2" x2="417.22" y2="274.4" stroke="#ebebeb" stroke-width="0.8"/>
<rect x="366.27" y="263.78" width="31.62" height="9.62" fill="#bfdafb"/>
<rect x="401.41" y="271.55" width="31.62" height="1.85" fill="#bfdafb"/>
<rect x="361" y="246.2" width="77.3" height="28.2" fill="none" stroke="#b3b3b3" stroke-width="0.8"/>
<line x1="382.08" y1="274.4" x2="382.08" y2="276.4" stroke="#666" stroke-width="0.6"/>
<text transform="translate(386.28 284.7) rotate(-45)" font-size="11.3" fill="#4d4d4d" text-anchor="end">PDX</text>
<line x1="417.22" y1="274.4" x2="417.22" y2="276.4" stroke="#666" stroke-width="0.6"/>
<text transform="translate(421.42 284.7) rotate(-45)" font-size="11.3" fill="#4d4d4d" text-anchor="end">Human</text>
<rect x="441.2" y="230.8" width="77.3" height="15.4" fill="#d9d9d9" stroke="#b3b3b3" stroke-width="0.8"/>
<text x="479.85" y="242.7" font-size="11.2" fill="#1a1a1a" text-anchor="middle">SKCM</text>
<rect x="441.2" y="246.2" width="77.3" height="28.2" fill="#ffffff"/>
<line x1="441.2" y1="269.7" x2="518.5" y2="269.7" stroke="#f4f4f4" stroke-width="0.5"/>
<line x1="441.2" y1="262.3" x2="518.5" y2="262.3" stroke="#f4f4f4" stroke-width="0.5"/>
<line x1="441.2" y1="254.9" x2="518.5" y2="254.9" stroke="#f4f4f4" stroke-width="0.5"/>
<line x1="441.2" y1="247.5" x2="518.5" y2="247.5" stroke="#f4f4f4" stroke-width="0.5"/>
<line x1="441.2" y1="273.4" x2="518.5" y2="273.4" stroke="#ebebeb" stroke-width="0.8"/>
<line x1="441.2" y1="266" x2="518.5" y2="266" stroke="#ebebeb" stroke-width="0.8"/>
<line x1="441.2" y1="258.6" x2="518.5" y2="258.6" stroke="#ebebeb" stroke-width="0.8"/>
<line x1="441.2" y1="251.2" x2="518.5" y2="251.2" stroke="#ebebeb" stroke-width="0.8"/>
<line x1="462.28" y1="246.2" x2="462.28" y2="274.4" stroke="#ebebeb" stroke-width="0.8"/>
<line x1="497.42" y1="246.2" x2="497.42" y2="274.4" stroke="#ebebeb" stroke-width="0.8"/>
<rect x="446.47" y="269.11" width="31.62" height="4.29" fill="#814914"/>
<rect x="481.61" y="266" width="31.62" height="7.4" fill="#814914"/>
<rect x="441.2" y="246.2" width="77.3" height="28.2" fill="none" stroke="#b3b3b3" stroke-width="0.8"/>
<line x1="462.28" y1="274.4" x2="462.28" y2="276.4" stroke="#666" stroke-width="0.6"/>
<text transform="translate(466.48 284.7) rotate(-45)" font-size="11.3" fill="#4d4d4d" text-anchor="end">PDX</text>
<line x1="497.42" y1="274.4" x2="497.42" y2="276.4" stroke="#666" stroke-width="0.6"/>
<text transform="translate(501.62 284.7) rotate(-45)" font-size="11.3" fill="#4d4d4d" text-anchor="end">Human</text>
<rect x="281.2" y="278.3" width="77.3" height="15.4" fill="#d9d9d9" stroke="#b3b3b3" stroke-width="0.8"/>
<text x="319.85" y="290.2" font-size="11.2" fill="#1a1a1a" text-anchor="middle">READ</text>
<rect x="281.2" y="293.7" width="77.3" height="28.2" fill="#ffffff"/>
<line x1="281.2" y1="317.2" x2="358.5" y2="317.2" stroke="#f4f4f4" stroke-width="0.5"/>
<line x1="281.2" y1="309.8" x2="358.5" y2="309.8" stroke="#f4f4f4" stroke-width="0.5"/>
<line x1="281.2" y1="302.4" x2="358.5" y2="302.4" stroke="#f4f4f4" stroke-width="0.5"/>
<line x1="281.2" y1="295" x2="358.5" y2="295" stroke="#f4f4f4" stroke-width="0.5"/>
<line x1="281.2" y1="320.9" x2="358.5" y2="320.9" stroke="#ebebeb" stroke-width="0.8"/>
<line x1="281.2" y1="313.5" x2="358.5" y2="313.5" stroke="#ebebeb" stroke-width="0.8"/>
<line x1="281.2" y1="306.1" x2="358.5" y2="306.1" stroke="#ebebeb" stroke-width="0.8"/>
<line x1="281.2" y1="298.7" x2="358.5" y2="298.7" stroke="#ebebeb" stroke-width="0.8"/>
<line x1="302.28" y1="293.7" x2="302.28" y2="321.9" stroke="#ebebeb" stroke-width="0.8"/>
<line x1="337.42" y1="293.7" x2="337.42" y2="321.9" stroke="#ebebeb" stroke-width="0.8"/>
<rect x="286.47" y="311.65" width="31.62" height="9.25" fill="#bfdafb"/>
<rect x="321.61" y="319.42" width="31.62" height="1.48" fill="#bfdafb"/>
<rect x="281.2" y="293.7" width="77.3" height="28.2" fill="none" stroke="#b3b3b3" stroke-width="0.8"/>
<line x1="279.8" y1="320.9" x2="281.2" y2="320.9" stroke="#777" stroke-width="0.7"/>
<text x="278.2" y="324.8" font-size="10.8" fill="#4d4d4d" text-anchor="end" transform="translate(278.2 0) scale(1.12 1) translate(-278.2 0)">0</text>
<line x1="279.8" y1="313.5" x2="281.2" y2="313.5" stroke="#777" stroke-width="0.7"/>
<text x="278.2" y="317.4" font-size="10.8" fill="#4d4d4d" text-anchor="end" transform="translate(278.2 0) scale(1.12 1) translate(-278.2 0)">20</text>
<line x1="279.8" y1="306.1" x2="281.2" y2="306.1" stroke="#777" stroke-width="0.7"/>
<text x="278.2" y="310" font-size="10.8" fill="#4d4d4d" text-anchor="end" transform="translate(278.2 0) scale(1.12 1) translate(-278.2 0)">40</text>
<line x1="279.8" y1="298.7" x2="281.2" y2="298.7" stroke="#777" stroke-width="0.7"/>
<text x="278.2" y="302.6" font-size="10.8" fill="#4d4d4d" text-anchor="end" transform="translate(278.2 0) scale(1.12 1) translate(-278.2 0)">60</text>
<line x1="302.28" y1="321.9" x2="302.28" y2="323.9" stroke="#666" stroke-width="0.6"/>
<text transform="translate(306.48 332.2) rotate(-45)" font-size="11.3" fill="#4d4d4d" text-anchor="end">PDX</text>
<line x1="337.42" y1="321.9" x2="337.42" y2="323.9" stroke="#666" stroke-width="0.6"/>
<text transform="translate(341.62 332.2) rotate(-45)" font-size="11.3" fill="#4d4d4d" text-anchor="end">Human</text>
<text transform="translate(261.3 260.7) rotate(-90)" font-size="11.2" fill="#000" text-anchor="middle">Num images</text>
<rect x="324.2" y="368.3" width="9.2" height="9.2" fill="#000000"/>
<text x="339.4" y="376.9" font-size="11.2" fill="#000" text-anchor="start">Naïve</text>
<rect x="374.8" y="368.3" width="9.2" height="9.2" fill="#a265f9"/>
<text x="389.8" y="376.9" font-size="11.2" fill="#000" text-anchor="start">Human Rx</text>
<rect x="449.2" y="368.3" width="9.2" height="9.2" fill="#fff76c"/>
<text x="464.2" y="376.9" font-size="11.2" fill="#000" text-anchor="start">PDX Rx</text>
<rect x="304.2" y="387.4" width="214.4" height="105.6" fill="#ffffff"/>
<line x1="304.2" y1="478.5" x2="518.6" y2="478.5" stroke="#f4f4f4" stroke-width="0.5"/>
<line x1="304.2" y1="458.5" x2="518.6" y2="458.5" stroke="#f4f4f4" stroke-width="0.5"/>
<line x1="304.2" y1="438.5" x2="518.6" y2="438.5" stroke="#f4f4f4" stroke-width="0.5"/>
<line x1="304.2" y1="418.5" x2="518.6" y2="418.5" stroke="#f4f4f4" stroke-width="0.5"/>
<line x1="304.2" y1="398.5" x2="518.6" y2="398.5" stroke="#f4f4f4" stroke-width="0.5"/>
<line x1="304.2" y1="488.5" x2="518.6" y2="488.5" stroke="#ebebeb" stroke-width="0.8"/>
<line x1="304.2" y1="468.5" x2="518.6" y2="468.5" stroke="#ebebeb" stroke-width="0.8"/>
<line x1="304.2" y1="448.5" x2="518.6" y2="448.5" stroke="#ebebeb" stroke-width="0.8"/>
<line x1="304.2" y1="428.5" x2="518.6" y2="428.5" stroke="#ebebeb" stroke-width="0.8"/>
<line x1="304.2" y1="408.5" x2="518.6" y2="408.5" stroke="#ebebeb" stroke-width="0.8"/>
<line x1="304.2" y1="388.5" x2="518.6" y2="388.5" stroke="#ebebeb" stroke-width="0.8"/>
<line x1="324.8" y1="387.4" x2="324.8" y2="493" stroke="#ebebeb" stroke-width="0.8"/>
<line x1="359.4" y1="387.4" x2="359.4" y2="493" stroke="#ebebeb" stroke-width="0.8"/>
<line x1="394" y1="387.4" x2="394" y2="493" stroke="#ebebeb" stroke-width="0.8"/>
<line x1="428.6" y1="387.4" x2="428.6" y2="493" stroke="#ebebeb" stroke-width="0.8"/>
<line x1="463.2" y1="387.4" x2="463.2" y2="493" stroke="#ebebeb" stroke-width="0.8"/>
<line x1="497.8" y1="387.4" x2="497.8" y2="493" stroke="#ebebeb" stroke-width="0.8"/>
<rect x="309.25" y="483.3" width="31.1" height="5.2" fill="#a265f9"/>
<rect x="309.25" y="392.38" width="31.1" height="91.52" fill="#000"/>
<rect x="343.85" y="483.9" width="31.1" height="4.6" fill="#a265f9"/>
<rect x="343.85" y="441.62" width="31.1" height="42.88" fill="#000"/>
<rect x="378.45" y="467.62" width="31.1" height="20.88" fill="#a265f9"/>
<rect x="378.45" y="452.3" width="31.1" height="15.92" fill="#000"/>
<rect x="413.05" y="473.18" width="31.1" height="15.32" fill="#fff76c"/>
<rect x="413.05" y="457.38" width="31.1" height="16.4" fill="#000"/>
<rect x="447.65" y="487.5" width="31.1" height="1" fill="#a265f9"/>
<rect x="447.65" y="465.62" width="31.1" height="22.48" fill="#000"/>
<rect x="482.25" y="485.1" width="31.1" height="3.4" fill="#a265f9"/>
<rect x="482.25" y="479.14" width="31.1" height="6.56" fill="#000"/>
<rect x="304.2" y="387.4" width="214.4" height="105.6" fill="none" stroke="#b3b3b3" stroke-width="0.8"/>
<line x1="302.4" y1="488.5" x2="304.2" y2="488.5" stroke="#777" stroke-width="0.7"/>
<text x="301.1" y="493.3" font-size="11" fill="#4d4d4d" text-anchor="end" transform="translate(301.1 0) scale(1.05 1) translate(-301.1 0)">0</text>
<line x1="302.4" y1="468.5" x2="304.2" y2="468.5" stroke="#777" stroke-width="0.7"/>
<text x="301.1" y="473.3" font-size="11" fill="#4d4d4d" text-anchor="end" transform="translate(301.1 0) scale(1.05 1) translate(-301.1 0)">50</text>
<line x1="302.4" y1="448.5" x2="304.2" y2="448.5" stroke="#777" stroke-width="0.7"/>
<text x="301.1" y="453.3" font-size="11" fill="#4d4d4d" text-anchor="end" transform="translate(301.1 0) scale(1.05 1) translate(-301.1 0)">100</text>
<line x1="302.4" y1="428.5" x2="304.2" y2="428.5" stroke="#777" stroke-width="0.7"/>
<text x="301.1" y="433.3" font-size="11" fill="#4d4d4d" text-anchor="end" transform="translate(301.1 0) scale(1.05 1) translate(-301.1 0)">150</text>
<line x1="302.4" y1="408.5" x2="304.2" y2="408.5" stroke="#777" stroke-width="0.7"/>
<text x="301.1" y="413.3" font-size="11" fill="#4d4d4d" text-anchor="end" transform="translate(301.1 0) scale(1.05 1) translate(-301.1 0)">200</text>
<line x1="302.4" y1="388.5" x2="304.2" y2="388.5" stroke="#777" stroke-width="0.7"/>
<text x="301.1" y="393.3" font-size="11" fill="#4d4d4d" text-anchor="end" transform="translate(301.1 0) scale(1.05 1) translate(-301.1 0)">250</text>
<line x1="324.8" y1="493" x2="324.8" y2="495" stroke="#666" stroke-width="0.6"/>
<text transform="translate(329.2 502) rotate(-45)" font-size="11.3" fill="#4d4d4d" text-anchor="end">Colon adenocarcinoma</text>
<line x1="359.4" y1="493" x2="359.4" y2="495" stroke="#666" stroke-width="0.6"/>
<text transform="translate(363.8 502) rotate(-45)" font-size="11.3" fill="#4d4d4d" text-anchor="end">PDAC</text>
<line x1="394" y1="493" x2="394" y2="495" stroke="#666" stroke-width="0.6"/>
<text transform="translate(398.4 502) rotate(-45)" font-size="11.3" fill="#4d4d4d" text-anchor="end">Breast cancer</text>
<line x1="428.6" y1="493" x2="428.6" y2="495" stroke="#666" stroke-width="0.6"/>
<text transform="translate(433 502) rotate(-45)" font-size="11.3" fill="#4d4d4d" text-anchor="end">Lung adenocarcinoma</text>
<line x1="463.2" y1="493" x2="463.2" y2="495" stroke="#666" stroke-width="0.6"/>
<text transform="translate(467.6 502) rotate(-45)" font-size="11.3" fill="#4d4d4d" text-anchor="end">SKCM</text>
<line x1="497.8" y1="493" x2="497.8" y2="495" stroke="#666" stroke-width="0.6"/>
<text transform="translate(502.2 502) rotate(-45)" font-size="11.3" fill="#4d4d4d" text-anchor="end">Colorectal cancer</text>
<text x="396" y="601" font-size="11.3" fill="#000" text-anchor="middle">Diagnosis</text>
<text transform="translate(278.0 440.5) rotate(-90)" font-size="11.3" fill="#000" text-anchor="middle">Num PDX images</text>
</svg>
</body></html>
